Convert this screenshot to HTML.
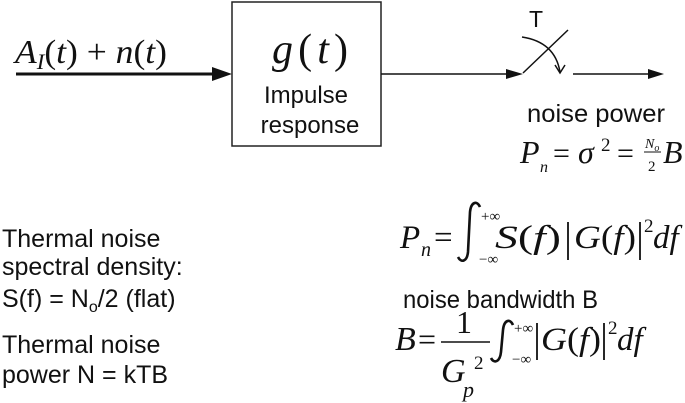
<!DOCTYPE html>
<html><head><meta charset="utf-8"><style>
html,body{margin:0;padding:0;background:#fff;}
svg{display:block}
.s{font-family:"Liberation Sans",Arial,sans-serif;fill:#111}
.m{font-family:"Liberation Serif","Times New Roman",serif;fill:#111}
.i{font-style:italic}
</style></head><body>
<svg width="685" height="403" viewBox="0 0 685 403" xmlns="http://www.w3.org/2000/svg">
<line x1="16" y1="74" x2="214" y2="74" stroke="#111" stroke-width="3"/>
<polygon points="212,67 232,74 212,81" fill="#111"/>
<text class="m" x="15" y="63" font-size="34" textLength="152" lengthAdjust="spacingAndGlyphs"><tspan class="i">A</tspan><tspan class="i" font-size="22" dy="6">I</tspan><tspan dy="-6">(</tspan><tspan class="i">t</tspan>) + <tspan class="i">n</tspan>(<tspan class="i">t</tspan>)</text>
<rect x="232" y="2" width="149" height="144" fill="none" stroke="#222" stroke-width="1.5"/>
<text class="m" x="272" y="63" font-size="42" textLength="76" lengthAdjust="spacing"><tspan class="i">g</tspan> ( <tspan class="i">t</tspan> )</text>
<text class="s" x="306" y="103" font-size="24" text-anchor="middle">Impulse</text>
<text class="s" x="310" y="133" font-size="24" text-anchor="middle">response</text>
<line x1="381" y1="74" x2="510" y2="74" stroke="#111" stroke-width="1.5"/>
<polygon points="506,69 523,74 506,79" fill="#111"/>
<line x1="523" y1="73" x2="568" y2="30" stroke="#111" stroke-width="1.5"/>
<path d="M522,37 Q555,42 560,72" fill="none" stroke="#111" stroke-width="1.5"/>
<polyline points="555,65 560,73 565,65" fill="none" stroke="#111" stroke-width="1.5"/>
<text class="s" x="529" y="27" font-size="23">T</text>
<line x1="573" y1="74" x2="652" y2="74" stroke="#111" stroke-width="1.5"/>
<polygon points="648,69 664,74 648,79" fill="#111"/>
<text class="s" x="527" y="122" font-size="25" textLength="138" lengthAdjust="spacingAndGlyphs">noise power</text>
<text class="m i" x="520" y="163" font-size="32">P</text>
<text class="m i" x="540" y="172" font-size="16">n</text>
<text class="m" x="553" y="163" font-size="30">=</text>
<text class="m i" x="578" y="163" font-size="32">σ</text>
<text class="m" x="601" y="151" font-size="19">2</text>
<text class="m" x="617" y="163" font-size="30">=</text>
<text class="m i" x="645" y="148" font-size="14">N<tspan font-size="10" dy="3">o</tspan></text>
<line x1="644" y1="152" x2="661" y2="152" stroke="#111" stroke-width="1"/>
<text class="m" x="648" y="171" font-size="15">2</text>
<text class="m i" x="663" y="163" font-size="32">B</text>
<g class="s" font-size="25">
<text x="2" y="247">Thermal noise</text>
<text x="2" y="275">spectral density:</text>
<text x="2" y="307">S(f) = N<tspan font-size="16" dy="5">o</tspan><tspan dy="-5">/2 (flat)</tspan></text>
<text x="2" y="353">Thermal noise</text>
<text x="2" y="383">power N = kTB</text>
</g>
<text class="m i" x="400" y="248" font-size="33">P</text>
<text class="m i" x="421" y="256" font-size="20">n</text>
<text class="m" x="434" y="248" font-size="33">=</text>
<path d="M480,207 C477,200 471,202 470,212 L468,252 C467,262 461,263 458,257" fill="none" stroke="#111" stroke-width="2.6"/>
<text class="m" x="481" y="221" font-size="15">+∞</text>
<text class="m" x="479" y="264" font-size="15">−∞</text>
<text class="m" x="495" y="248" font-size="33" textLength="66" lengthAdjust="spacingAndGlyphs"><tspan class="i">S</tspan>(<tspan class="i">f</tspan>)</text>
<line x1="568" y1="222" x2="568" y2="260" stroke="#111" stroke-width="1.8"/>
<text class="m" x="574" y="248" font-size="33" textLength="62" lengthAdjust="spacingAndGlyphs"><tspan class="i">G</tspan>(<tspan class="i">f</tspan>)</text>
<line x1="640" y1="222" x2="640" y2="260" stroke="#111" stroke-width="1.8"/>
<text class="m" x="644" y="232" font-size="19">2</text>
<text class="m i" x="653" y="248" font-size="33">df</text>
<text class="s" x="403" y="308" font-size="25" textLength="195" lengthAdjust="spacingAndGlyphs">noise bandwidth B</text>
<text class="m i" x="395" y="350" font-size="34">B</text>
<text class="m" x="418" y="350" font-size="32">=</text>
<text class="m" x="456" y="333" font-size="32">1</text>
<line x1="441" y1="342" x2="490" y2="342" stroke="#111" stroke-width="1.6"/>
<text class="m i" x="441" y="382" font-size="34">G</text>
<text class="m i" x="463" y="397" font-size="22">p</text>
<text class="m" x="474" y="369" font-size="19">2</text>
<path d="M513,325 C510,318 504,320 503,330 L501,352 C500,362 494,364 491,358" fill="none" stroke="#111" stroke-width="2.6"/>
<text class="m" x="514" y="333" font-size="15">+∞</text>
<text class="m" x="512" y="364" font-size="15">−∞</text>
<line x1="537" y1="323" x2="537" y2="360" stroke="#111" stroke-width="1.8"/>
<text class="m" x="541" y="350" font-size="33" textLength="60" lengthAdjust="spacingAndGlyphs"><tspan class="i">G</tspan>(<tspan class="i">f</tspan>)</text>
<line x1="604" y1="323" x2="604" y2="360" stroke="#111" stroke-width="1.8"/>
<text class="m" x="608" y="334" font-size="19">2</text>
<text class="m i" x="617" y="350" font-size="33">df</text>
</svg>
</body></html>
